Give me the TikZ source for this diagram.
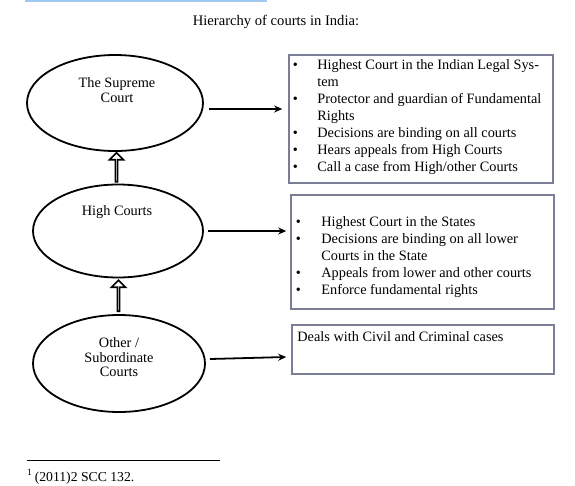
\documentclass[tikz,border=0pt]{standalone}
\usepackage{fontspec}
\setmainfont{Liberation Serif}
\usetikzlibrary{shapes.geometric,shapes.arrows,arrows.meta,calc}
\definecolor{boxgray}{RGB}{122,126,150}
\definecolor{rulesky}{RGB}{160,200,240}
\newcommand{\dutybullet}[1]{\makebox[#1][l]{\textbullet}}

\begin{document}
\begin{tikzpicture}
[x=1pt,y=-1pt,
  courtdecorate/.style={shape=ellipse,draw,line width=1.8pt,inner sep=0pt},
  textdecorate/.style={align=center,inner sep=0pt,font=\fontsize{14.3}{14.5}\selectfont},
  listdecorate/.style={align=left,inner sep=0pt,anchor=north west,font=\fontsize{14.3}{17}\selectfont},
  boxdecorate/.style={shape=rectangle,draw=boxgray,line width=1.6pt,inner sep=0pt},
  arrowdecorate/.style={->,>={Stealth[length=8pt,width=7pt]},line width=1.8pt},
  hollowdecorate/.style={single arrow,draw,line width=1.6pt,shape border rotate=90,
    minimum width=14pt,single arrow head extend=4.5pt,single arrow head indent=0pt,inner sep=0pt}]
\useasboundingbox (0,0) rectangle (575,485);
%% title and rules
\draw[rulesky,line width=2pt] (25,1) -- (267,1);
\node (title) at (276,22) [font=\fontsize{14.6}{17}\selectfont] {Hierarchy of courts in India:};
%% courts
\foreach \nodename/\x/\y/\w/\h/\tx/\ty/\courtname in {
  supreme/115/103/176/96/117/90/{The Supreme\\Court},
  high/118/231/170/93/117/212/{High Courts},
  other/119/363.5/172/97/119/357.5/{Other /\\Subordinate\\Courts}} {
  \node (\nodename) at (\x,\y) [courtdecorate,minimum width=\w pt,minimum height=\h pt] {};
  \node (\nodename text) at (\tx,\ty) [textdecorate] {\courtname};
}
%% duty boxes
\foreach \nodename/\x/\y/\w/\h in {
  supremeduties/421/119/264/128, highduties/422.5/252/263/114,
  otherduties/423/349.5/262/49} {
  \node (\nodename) at (\x,\y) [boxdecorate,minimum width=\w pt,minimum height=\h pt] {};
}
\node (supremelist) at ([shift={(4.5,5.2)}]supremeduties.north west) [listdecorate]
  {\dutybullet{24.5pt}Highest Court in the Indian Legal Sys-\\
   \hspace*{24.5pt}tem\\
   \dutybullet{24.5pt}Protector and guardian of Fundamental\\
   \hspace*{24.5pt}Rights\\
   \dutybullet{24.5pt}Decisions are binding on all courts\\
   \dutybullet{24.5pt}Hears appeals from High Courts\\
   \dutybullet{24.5pt}Call a case from High/other Courts};
\node (highlist) at ([shift={(5.5,21.7)}]highduties.north west) [listdecorate]
  {\dutybullet{25.5pt}Highest Court in the States\\
   \dutybullet{25.5pt}Decisions are binding on all lower\\
   \hspace*{25.5pt}Courts in the State\\
   \dutybullet{25.5pt}Appeals from lower and other courts\\
   \dutybullet{25.5pt}Enforce fundamental rights};
\node (otherlist) at ([shift={(6,6.7)}]otherduties.north west) [listdecorate]
  {Deals with Civil and Criminal cases};
%% edges or lines
\path
\foreach \startnode/\endnode/\sx/\sy/\ex/\ey in {
  supreme/supremeduties/5/6/-6/-10, high/highduties/4/0/-4/-21,
  other/otherduties/4/-4.5/-5/7.5} {
  ([shift={(\sx,\sy)}]\startnode.east) edge[arrowdecorate] ([shift={(\ex,\ey)}]\endnode.west)
};
\node (highup) at ($(supreme.south)!0.5!(high.north)$) [hollowdecorate,minimum height=29pt] {};
\node (otherup) at ($(high.south)!0.5!(other.north)$) [hollowdecorate,minimum height=31pt] {};
%% footnote
\draw[line width=1pt] (27,460) -- (220,460);
\node (footnote) at (27,481) [anchor=base west,inner sep=0pt,font=\fontsize{13.7}{16}\selectfont]
  {\textsuperscript{1}\,(2011)2 SCC 132.};
\end{tikzpicture}
\end{document}
